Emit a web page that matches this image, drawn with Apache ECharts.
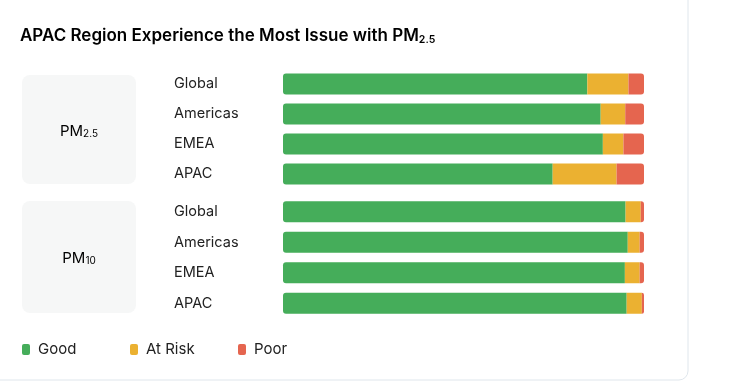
<!DOCTYPE html>
<html><head><meta charset="utf-8">
<script src="https://cdn.jsdelivr.net/npm/echarts@6/dist/echarts.min.js"></script>
<style>html,body{margin:0;padding:0;background:#fff;}#c{width:731px;height:385px;}</style>
</head><body><div id="c"></div>
<script>
const regions = ['Global', 'Americas', 'EMEA', 'APAC'];
const pm25Good = [84.3, 88.0, 88.6, 74.7];
const pm25Risk = [11.4, 6.8, 5.7, 17.7];
const pm25Poor = [4.3, 5.2, 5.7, 7.6];
const pm10Good = [94.9, 95.5, 94.7, 95.2];
const pm10Risk = [4.2, 3.3, 4.1, 4.2];
const pm10Poor = [0.9, 1.2, 1.2, 0.6];
const seriesNames = ['Good', 'At Risk', 'Poor'];
const colors = ['#45ad5a', '#ebb131', '#e5654f'];

const chart = echarts.init(document.getElementById('c'), null, {renderer: 'canvas'});
const labelStyle = {fontFamily: 'Inter', fontSize: 14.5, color: '#222', padding: [2, 0, 0, 0]};
function yAx(gi) {
  return {type: 'category', gridIndex: gi, data: regions, inverse: true,
    axisLine: {show: false}, axisTick: {show: false},
    axisLabel: Object.assign({align: 'left', margin: 109}, labelStyle)};
}
function xAx(gi) {
  return {type: 'value', gridIndex: gi, min: 0, max: 100, show: false};
}
function mk(name, data, gi, idx) {
  const r = idx === 0 ? [3, 0, 0, 3] : idx === 2 ? [0, 3, 3, 0] : 0;
  return {name, type: 'bar', stack: 's' + gi, xAxisIndex: gi, yAxisIndex: gi,
    data, barWidth: 21, itemStyle: {color: colors[idx], borderRadius: r},
    emphasis: {disabled: true}};
}
const pmText = (main, sub) => ({
  type: 'text', style: {text: '{a|' + main + '}{b|' + sub + '}',
    rich: {a: {fontFamily: 'Inter', fontSize: 15, color: '#222'},
           b: {fontFamily: 'Inter', fontSize: 10, color: '#222', padding: [6, 0, 0, 0]}},
    align: 'center', verticalAlign: 'middle'}
});
const legendLefts = [22, 130, 238];
chart.setOption({
  animation: false,
  grid: [
    {left: 283, top: 69, width: 361, height: 120},
    {left: 283, top: 196.5, width: 361, height: 122}
  ],
  xAxis: [xAx(0), xAx(1)],
  yAxis: [yAx(0), yAx(1)],
  legend: seriesNames.map((n, i) => ({
    data: [n], left: legendLefts[i], top: 342, icon: 'roundRect', itemWidth: 8, itemHeight: 11,
    padding: 0, textStyle: {fontFamily: 'Inter', fontSize: 15, color: '#222', padding: [0, 0, 0, 3]}
  })),
  graphic: [
    {type: 'rect', z: -10, shape: {x: -20, y: -20, width: 708, height: 400, r: 9},
      style: {fill: '#fff', stroke: '#dfe6ec', lineWidth: 1}},
    {type: 'rect', z: -5, shape: {x: 22, y: 75, width: 114, height: 109, r: 8}, style: {fill: '#f6f7f7'}},
    {type: 'rect', z: -5, shape: {x: 22, y: 201, width: 114, height: 112, r: 8}, style: {fill: '#f6f7f7'}},
    Object.assign(pmText('PM', '2.5'), {x: 79, y: 131}),
    Object.assign(pmText('PM', '10'), {x: 79, y: 258}),
    {type: 'text', x: 20, y: 27, style: {
      text: '{a|APAC Region Experience the Most Issue with PM}{b|2.5}',
      rich: {a: {fontFamily: 'Inter', fontWeight: 600, fontSize: 17, color: '#1b2030'},
             b: {fontFamily: 'Inter', fontWeight: 600, fontSize: 10.5, color: '#1b2030', padding: [7, 0, 0, 0]}}
    }}
  ],
  series: [
    mk('Good', pm25Good, 0, 0), mk('At Risk', pm25Risk, 0, 1), mk('Poor', pm25Poor, 0, 2),
    mk('Good', pm10Good, 1, 0), mk('At Risk', pm10Risk, 1, 1), mk('Poor', pm10Poor, 1, 2)
  ]
});
</script></body></html>
